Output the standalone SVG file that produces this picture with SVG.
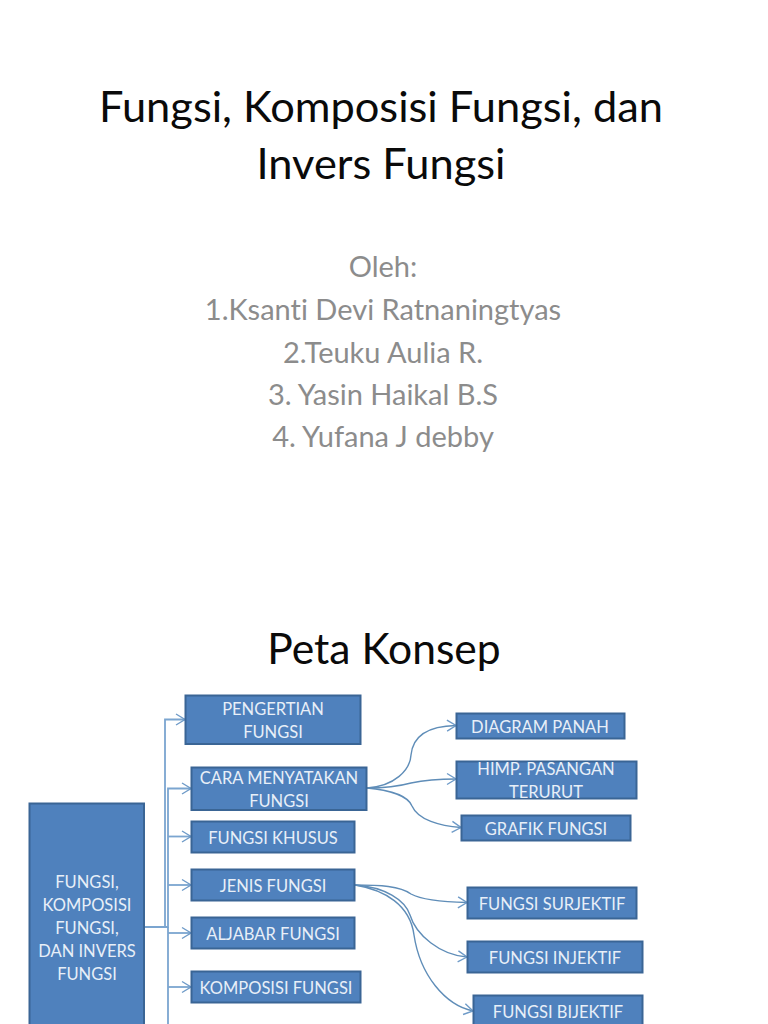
<svg xmlns="http://www.w3.org/2000/svg" width="768" height="1024" viewBox="0 0 768 1024">
<style>
text{font-family:"Lato","Open Sans","Liberation Sans",sans-serif;text-anchor:middle;font-variant-ligatures:none}
.t{font-size:43.4px;fill:#0a0a0a}
.p{font-size:42.6px;fill:#0a0a0a}
.s{font-size:29px;fill:#8c8c8c}
.b{fill:#4f81bd;stroke:#3a6595;stroke-width:2}
.l{font-size:16.5px;fill:#e8eff8}
.c{fill:none;stroke:#7ba5d0;stroke-width:1.8}
.d{fill:none;stroke:#5f8db8;stroke-width:1.4}
</style>
<defs>
<marker id="a" markerUnits="userSpaceOnUse" markerWidth="12" markerHeight="14" refX="10" refY="6" orient="auto" overflow="visible"><path d="M1 0.5L10 6L1 11.500" fill="none" stroke="#6f9bc8" stroke-width="1.4"/></marker>
</defs>
<rect width="768" height="1024" fill="#fff"/>
<g id="slide1">
<text class="t" x="381" y="122">Fungsi, Komposisi Fungsi, dan</text>
<text class="t" x="381" y="179">Invers Fungsi</text>
<text class="s" x="383" y="277">Oleh:</text>
<text class="s" x="383" y="320">1.Ksanti Devi Ratnaningtyas</text>
<text class="s" x="383" y="363">2.Teuku Aulia R.</text>
<text class="s" x="383" y="405">3. Yasin Haikal B.S</text>
<text class="s" x="383" y="447">4. Yufana J debby</text>
</g>
<text id="slide2-title" class="p" x="384" y="664">Peta Konsep</text>
<g id="connectors">
<path class="c" d="M144 927H165V719.500H185" marker-end="url(#a)"/>
<path class="c" d="M165 927H168V788.500H191" marker-end="url(#a)"/>
<path class="c" d="M168 836.500H191" marker-end="url(#a)"/>
<path class="c" d="M168 885H191" marker-end="url(#a)"/>
<path class="c" d="M168 933H191" marker-end="url(#a)"/>
<path class="c" d="M168 987H191" marker-end="url(#a)"/>
<path class="c" d="M168 927V1024"/>
<path class="d" d="M367 788C395 786 410 770 411 755C413 735 430 726 456 725.500" marker-end="url(#a)"/>
<path class="d" d="M367 788C385 788 400 786 411 783C425 780 440 779 456 779" marker-end="url(#a)"/>
<path class="d" d="M367 788C390 790 408 796 412 806C418 820 440 826 461 827.500" marker-end="url(#a)"/>
<path class="d" d="M355 885C380 885 400 886 411 894C422 900 445 902 467 902.500" marker-end="url(#a)"/>
<path class="d" d="M355 885C385 887 405 900 410 915C416 935 440 955 467 957" marker-end="url(#a)"/>
<path class="d" d="M355 885C385 890 410 905 414 935C420 975 445 1005 473 1011" marker-end="url(#a)"/>
</g>
<g id="n-root"><rect class="b" x="29.500" y="803.500" width="114.500" height="230"/>
<text class="l" x="87" y="888">FUNGSI,</text><text class="l" x="87" y="911">KOMPOSISI</text><text class="l" x="87" y="934">FUNGSI,</text><text class="l" x="87" y="957">DAN INVERS</text><text class="l" x="87" y="980">FUNGSI</text></g>
<g id="n-pengertian"><rect class="b" x="185.500" y="695.500" width="175" height="48.500"/>
<text class="l" x="273" y="715">PENGERTIAN</text><text class="l" x="273" y="738">FUNGSI</text></g>
<g id="n-cara"><rect class="b" x="191.500" y="767.500" width="175" height="42.500"/>
<text class="l" x="279" y="784">CARA MENYATAKAN</text><text class="l" x="279" y="807">FUNGSI</text></g>
<g id="n-khusus"><rect class="b" x="191.500" y="821.500" width="163" height="31"/>
<text class="l" x="273" y="844">FUNGSI KHUSUS</text></g>
<g id="n-jenis"><rect class="b" x="191.500" y="869.500" width="163" height="31"/>
<text class="l" x="273" y="892">JENIS FUNGSI</text></g>
<g id="n-aljabar"><rect class="b" x="191.500" y="917.500" width="163" height="31"/>
<text class="l" x="273" y="940">ALJABAR FUNGSI</text></g>
<g id="n-komposisi"><rect class="b" x="191.500" y="971.500" width="169" height="31"/>
<text class="l" x="276" y="994">KOMPOSISI FUNGSI</text></g>
<g id="n-diagram"><rect class="b" x="456.500" y="713.500" width="168" height="25"/>
<text class="l" x="540" y="733">DIAGRAM PANAH</text></g>
<g id="n-himp"><rect class="b" x="456.500" y="761.500" width="180" height="37"/>
<text class="l" x="546" y="775">HIMP. PASANGAN</text><text class="l" x="546" y="798">TERURUT</text></g>
<g id="n-grafik"><rect class="b" x="461.500" y="815.500" width="169" height="25"/>
<text class="l" x="546" y="835">GRAFIK FUNGSI</text></g>
<g id="n-surjektif"><rect class="b" x="467.500" y="887.500" width="169" height="31"/>
<text class="l" x="552" y="910">FUNGSI SURJEKTIF</text></g>
<g id="n-injektif"><rect class="b" x="467.500" y="941.500" width="175" height="31"/>
<text class="l" x="555" y="964">FUNGSI INJEKTIF</text></g>
<g id="n-bijektif"><rect class="b" x="473.500" y="995.500" width="169" height="40"/>
<text class="l" x="558" y="1018">FUNGSI BIJEKTIF</text></g>
</svg>
